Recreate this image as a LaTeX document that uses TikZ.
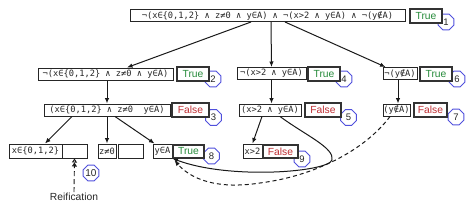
\documentclass[tikz,border=0pt]{standalone}
\usepackage{fontspec}
\setmainfont{Liberation Sans}
\newfontfamily\monofont{DejaVu Sans Mono}
\usetikzlibrary{arrows.meta,shapes.geometric}
\definecolor{tgreen}{RGB}{40,140,60}
\definecolor{fred}{RGB}{190,45,50}
\definecolor{octblue}{RGB}{80,80,220}
\begin{document}
\begin{tikzpicture}[x=1pt,y=-1pt,
 formula/.style={draw=black!85,line width=1pt,fill=white,inner sep=0pt,minimum height=12pt,font=\monofont\fontsize{8.7}{9}\selectfont,text=black!85},
 lowbox/.style={formula,minimum height=14pt},
 tval/.style={draw=black!80,line width=1.1pt,fill=white,inner sep=0pt,minimum height=14pt,font=\fontsize{10.3}{11}\selectfont,text=tgreen},
 fval/.style={tval,text=fred},
 oct/.style={regular polygon,regular polygon sides=8,draw=octblue,line width=0.9pt,minimum size=17pt,inner sep=0pt},
 num/.style={font=\fontsize{9.5}{10}\selectfont,inner sep=0pt,text=black!85},
 arr/.style={-{Latex[length=5.5pt,width=4.5pt]},line width=1pt,draw=black!90},
]
\useasboundingbox (0,0) rectangle (474,209);
% octagons (behind boxes)
\node[oct] (o1) at (446,22) {};
\node[oct] (o2) at (213,79) {};
\node[oct] (o4) at (344,79) {};
\node[oct] (o6) at (457,79) {};
\node[oct] (o3) at (213.5,117.5) {};
\node[oct] (o5) at (348.5,117.5) {};
\node[oct] (o7) at (456,117) {};
\node[oct] (o8) at (211.5,156) {};
\node[oct] (o9) at (302,159) {};
\node[oct] (o10) at (91,173) {};
% row 1
\node[formula,minimum width=275pt] (f1) at (267.5,15.5) {¬(x∈\{0,1,2\} ∧ z≠0 ∧ y∈A) ∧ ¬(x>2 ∧ y∈A) ∧ ¬(y∉A)};
\node[tval,minimum width=32pt] (t1) at (426,16) {True};
% row 2
\node[formula,minimum width=135pt] (f2) at (105.5,74) {¬(x∈\{0,1,2\} ∧ z≠0 ∧ y∈A)};
\node[tval,minimum width=32pt] (t2) at (193,74) {True};
\node[formula,minimum width=69pt] (f4) at (271.5,73.5) {¬(x>2 ∧ y∈A)};
\node[tval,minimum width=32pt] (t4) at (324,74) {True};
\node[formula,minimum width=34pt] (f6) at (400,73.5) {¬(y∉A)};
\node[tval,minimum width=32pt] (t6) at (436,74) {True};
% row 3
\node[formula,minimum width=126pt] (f3) at (107,110) {(x∈\{0,1,2\} ∧ z≠0\ \ y∈A)};
\node[fval,minimum width=37pt] (fa3) at (190.5,110) {False};
\node[formula,minimum width=62pt] (f5) at (270,110) {(x>2 ∧ y∈A)};
\node[fval,minimum width=36pt] (fa5) at (323,110) {False};
\node[formula,minimum width=27pt] (f7) at (396.5,110) {(y∉A)};
\node[fval,minimum width=33pt] (fa7) at (430.5,110) {False};
% row 4
\node[lowbox,minimum width=53pt] (b1) at (35.5,151) {x∈\{0,1,2\}};
\node[lowbox,minimum width=25pt] (e1) at (74.5,151) {};
\node[lowbox,minimum width=18pt] (b2) at (107,151) {z≠0};
\node[lowbox,minimum width=25pt] (e2) at (130.5,151) {};
\node[lowbox,minimum width=19pt] (b3) at (162.5,151) {y∈A};
\node[tval,minimum width=31pt,minimum height=13pt] (t8) at (188.5,151.5) {True};
\node[lowbox,minimum width=19pt] (b4) at (252.5,151) {x>2};
\node[fval,minimum width=35pt,minimum height=13pt] (fa9) at (280.5,151.5) {False};
% numbers
\node[num] (n1) at (o1) {1};
\node[num] (n2) at (o2) {2};
\node[num] (n4) at (o4) {4};
\node[num] (n6) at (o6) {6};
\node[num] (n3) at (o3) {3};
\node[num] (n5) at (o5) {5};
\node[num] (n7) at (o7) {7};
\node[num] (n8) at (o8) {8};
\node[num] (n9) at (o9) {9};
\node[num,font=\fontsize{10}{11}\selectfont] (n10) at (o10) {10};
\node[font=\fontsize{10.3}{11}\selectfont,inner sep=1pt,text=black!85] (reif) at (74,197) {Reification};
% connectors
\draw[arr] ([xshift=-16.5pt]f1.south) -- ([xshift=21.5pt]f2.north);
\draw[arr] ([xshift=3.5pt]f1.south) -- (f4.north);
\draw[arr] ([xshift=17.5pt]f1.south) -- ([xshift=3pt]f6.north west);
\draw[arr] ([xshift=1.5pt]f2.south) -- (f3.north);
\draw[arr] (f4.south) -- ([xshift=1.5pt]f5.north);
\draw[arr] ([xshift=-2pt]f6.south) -- ([xshift=1.5pt]f7.north);
\draw[arr] ([xshift=-35pt]f3.south) -- ([xshift=9.5pt]b1.north);
\draw[arr] (f3.south) -- (b2.north);
\draw[arr] ([xshift=8pt]f3.south) -- ([xshift=2pt]b3.north west);
\draw[arr] ([xshift=-8pt]f5.south) -- (b4.north);
\draw[arr] ([xshift=10pt]f5.south) .. controls (305,135) and (335,148) .. (332,160) .. controls (328,172) and (230,180) .. (b3.south east);
\draw[arr,dash pattern=on 4pt off 3pt] ([xshift=-6.5pt]f7.south) .. controls (365,150) and (315,176) .. (260,183) .. controls (215,190) and (190,178) .. ([xshift=2pt,yshift=-2pt]b3.south east);
\draw[line width=0.9pt,draw=black!90,dash pattern=on 5pt off 3pt,-{Triangle[open,length=4pt,width=5pt]Triangle[open,length=4pt,width=5pt]}] (reif.north) -- (e1.south);
\end{tikzpicture}
\end{document}
